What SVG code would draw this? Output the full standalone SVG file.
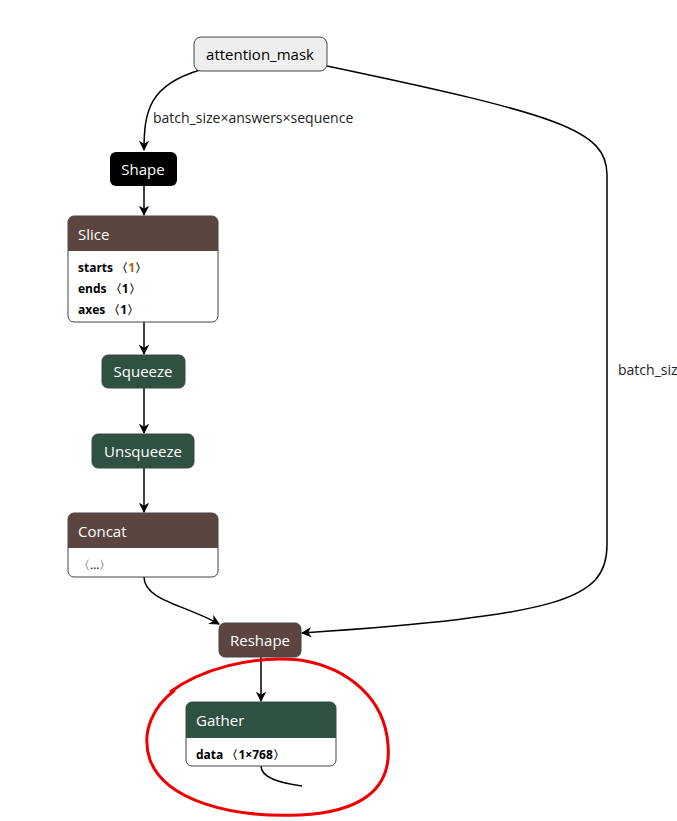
<svg xmlns="http://www.w3.org/2000/svg" width="677" height="821" viewBox="0 0 677 821">
<style>
text{font-family:"Segoe UI","Open Sans","Noto Sans",sans-serif;font-size:15px}
.t{fill:#fff}
.e{fill:none;stroke:#000;stroke-width:1.5}
.a{font-size:12px;font-weight:bold;fill:#000}
.v{font-size:12px;fill:#000}
.o{fill:#b36200}
.b{stroke:#444;stroke-width:1}
.lbl{font-size:14px;fill:#222}
</style>
<defs><marker id="ar" viewBox="0 0 10 10" refX="9" refY="5" markerWidth="7" markerHeight="7" orient="auto"><path d="M0,0 L10,5 L0,10 L3,5 z" fill="#000"/></marker></defs>
<rect width="677" height="821" fill="#fff"/>
<g id="edges">
<path class="e" d="M200,70 C150,85 144,110 144,150" marker-end="url(#ar)"/>
<path class="e" d="M327,66 C560,115 607,130 607,175 L607,545 C607,600 560,615 302,633" marker-end="url(#ar)"/>
<path class="e" d="M144,186 L144,215" marker-end="url(#ar)"/>
<path class="e" d="M144,322 L144,354" marker-end="url(#ar)"/>
<path class="e" d="M144,388 L144,433" marker-end="url(#ar)"/>
<path class="e" d="M144,468 L144,512" marker-end="url(#ar)"/>
<path class="e" d="M144,577 C144,600 185,605 219,624" marker-end="url(#ar)"/>
<path class="e" d="M261,657 L261,701" marker-end="url(#ar)"/>
<path class="e" d="M261,766 C261,778 280,783 302,786"/>
<text class="lbl" x="153" y="123">batch_size×answers×sequence</text>
<text class="lbl" x="618" y="375">batch_siz</text>
</g>
<g id="attention_mask"><rect x="194" y="37" width="133" height="34" rx="7" fill="#eee" class="b"/><text x="260" y="60" text-anchor="middle" fill="#000">attention_mask</text></g>
<g id="shape"><rect x="110" y="152" width="67" height="34" rx="6" fill="#000"/><text class="t" x="143" y="175" text-anchor="middle">Shape</text></g>
<g id="slice"><rect x="68" y="216" width="150" height="106" rx="6" fill="#fff" class="b"/><path d="M68,251 V222 a6,6 0 0 1 6,-6 H212 a6,6 0 0 1 6,6 V251 z" fill="#5b4540"/><text class="t" x="78" y="240">Slice</text>
<text x="78" y="272" class="a">starts<tspan class="v"> 〈<tspan class="o">1</tspan>〉</tspan></text>
<text x="78" y="293" class="a">ends<tspan class="v"> 〈1〉</tspan></text>
<text x="78" y="314" class="a">axes<tspan class="v"> 〈1〉</tspan></text></g>
<g id="squeeze"><rect x="102" y="355" width="83" height="33" rx="6" fill="#2f5141" class="b"/><text class="t" x="143" y="377" text-anchor="middle">Squeeze</text></g>
<g id="unsqueeze"><rect x="92" y="434" width="102" height="34" rx="6" fill="#2f5141" class="b"/><text class="t" x="143" y="457" text-anchor="middle">Unsqueeze</text></g>
<g id="concat"><rect x="68" y="513" width="150" height="64" rx="6" fill="#fff" class="b"/><path d="M68,548 V519 a6,6 0 0 1 6,-6 H212 a6,6 0 0 1 6,6 V548 z" fill="#5b4540"/><text class="t" x="78" y="537">Concat</text><text x="78" y="569" class="v" font-size="13">〈...〉</text></g>
<g id="reshape"><rect x="219" y="623" width="82" height="34" rx="6" fill="#5c4540" class="b"/><text class="t" x="260" y="646" text-anchor="middle">Reshape</text></g>
<g id="gather"><rect x="186" y="702" width="150" height="64" rx="6" fill="#fff" class="b"/><path d="M186,738 V708 a6,6 0 0 1 6,-6 H330 a6,6 0 0 1 6,6 V738 z" fill="#2f5141"/><text class="t" x="196" y="726">Gather</text><text x="196" y="759" class="a">data<tspan class="v"> 〈1×768〉</tspan></text></g>
<path d="M170,692 C200,670 250,655 300,660 C350,668 385,700 388,745 C392,790 360,812 300,815 C230,818 165,800 150,760 C140,730 155,705 175,690" fill="none" stroke="#e00" stroke-width="3"/>
</svg>
